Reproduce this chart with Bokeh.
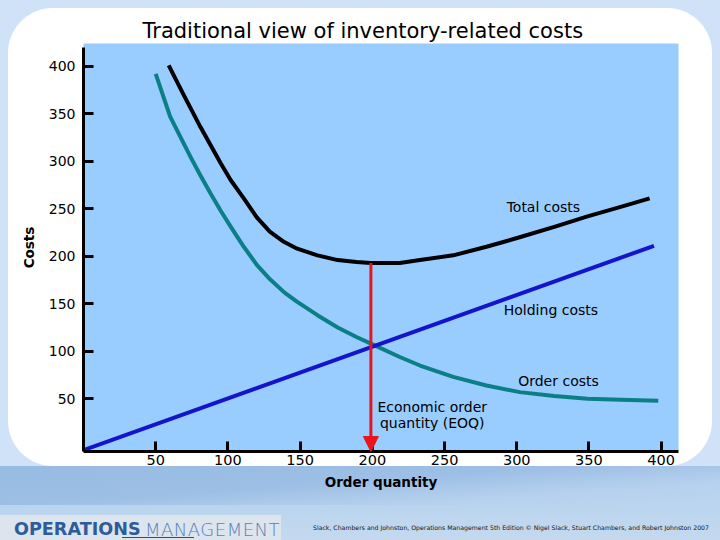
from bokeh.plotting import figure
from bokeh.layouts import column
from bokeh.models import (Range1d, FixedTicker, Label, Arrow, NormalHead, Div,
                          InlineStyleSheet)
from bokeh.embed import file_html
from bokeh.resources import INLINE

# ---------------- data ----------------
title_text = "Traditional view of inventory-related costs"
x_title = "Order quantity"
y_title = "Costs"

qty_ticks = [50, 100, 150, 200, 250, 300, 350, 400]
cost_ticks = [50, 100, 150, 200, 250, 300, 350, 400]

holding_x = [0, 395]
holding_y = [-4, 211]

order_x = [50, 60, 67, 74, 81, 88, 95, 102, 111, 120, 129, 139, 148, 162, 176, 189,
           199, 219, 233, 256, 279, 302, 326, 349, 372, 398]
order_y = [392, 347, 326, 305, 285, 266, 248, 231, 210, 191, 176, 162, 152, 138, 125, 115,
           108, 94, 85, 73, 64, 57, 53, 50, 49, 48]

total_x = [59, 69, 81, 95, 102, 111, 120, 129, 139, 148, 162, 176, 189, 199, 219,
           233, 256, 279, 302, 326, 349, 372, 392]
total_y = [401, 371, 336, 298, 280, 261, 241, 226, 215, 208, 201, 196, 194, 193, 193,
           196, 201, 210, 220, 231, 242, 252, 261]

eoq_qty = 199
eoq_total = 193

series_labels = ["Total costs", "Holding costs", "Order costs"]
eoq_label = "Economic order\nquantity (EOQ)"
logo_words = ["OPERATIONS", "MANAGEMENT"]
credit = ("Slack, Chambers and Johnston, Operations Management 5th Edition "
          "\u00a9 Nigel Slack, Stuart Chambers, and Robert Johnston 2007")

# ---------------- styles ----------------
FONT = "DejaVu Sans"
TEAL = "#0B7F86"
BLUE = "#1414CC"
RED = "#E8161C"
PLOT_BG = "#99CCFF"
PAGE_BG = "#CFE2F7"

Y0, Y1 = -5.5, 424
X0, X1 = 0, 412

W, H = 720, 505

W_ = "linear-gradient(#ffffff,#ffffff)"
R_ = "radial-gradient(circle at 45px 45px, #ffffff 44.5px, rgba(255,255,255,0) 45.5px)"
page_css = InlineStyleSheet(css=f"""
:host {{
  background-color: {PAGE_BG};
  background-image: {W_}, {W_}, {R_}, {R_}, {R_}, {R_},
                    linear-gradient(176deg, #97BBE2 0%, #9DBFE5 45%, #B6D1EE 75%, #BCD5EF 100%);
  background-repeat: no-repeat;
  background-position: 8px 53px, 53px 8px, 8px 8px, 622px 8px, 8px 376px, 622px 376px, 0px 466px;
  background-size: 704px 368px, 614px 458px, 90px 90px, 90px 90px, 90px 90px, 90px 90px, 720px 39px;
}}
""")

p = figure(width=W, height=H, x_range=Range1d(X0, X1), y_range=Range1d(Y0, Y1),
           output_backend="svg", toolbar_location=None, title=title_text,
           min_border_left=83, min_border_right=42, min_border_top=43, min_border_bottom=54)
p.stylesheets = [page_css]

p.border_fill_color = None
p.background_fill_color = PLOT_BG
p.outline_line_color = None
p.grid.visible = False

# title
p.title.text_font = FONT
p.title.text_font_size = "21px"
p.title.text_font_style = "normal"
p.title.text_color = "black"
p.title.align = "left"
p.title.offset = 59
p.title.standoff = 2

# axes
for ax in (p.xaxis[0], p.yaxis[0]):
    ax.axis_line_width = 3
    ax.axis_line_color = "black"
    ax.major_tick_line_width = 3
    ax.major_tick_line_color = "black"
    ax.major_tick_in = 10
    ax.major_tick_out = 0
    ax.minor_tick_line_color = None
    ax.major_label_text_font = FONT
    ax.major_label_text_font_size = "14px"
    ax.major_label_text_color = "black"
    ax.axis_label_text_font = FONT
    ax.axis_label_text_font_style = "bold"
    ax.axis_label_text_color = "black"

p.xaxis.ticker = FixedTicker(ticks=qty_ticks)
p.yaxis.ticker = FixedTicker(ticks=cost_ticks)
p.xaxis.major_label_standoff = 3
p.yaxis.major_label_standoff = 8
p.xaxis.major_label_text_font_size = "14.5px"
p.yaxis.bounds = (Y0, 420)
p.xaxis.axis_label = x_title
p.yaxis.axis_label = y_title
p.xaxis.axis_label_text_font_size = "13.5px"
p.yaxis.axis_label_text_font_size = "13.5px"
p.xaxis.axis_label_standoff = 6
p.yaxis.axis_label_standoff = 9

# series
p.line(order_x, order_y, line_color=TEAL, line_width=4, line_join="round")
p.line(holding_x, holding_y, line_color=BLUE, line_width=4)
p.line(total_x, total_y, line_color="black", line_width=4, line_join="round")

p.add_layout(Arrow(end=NormalHead(size=15, fill_color=RED, line_color=RED),
                   x_start=eoq_qty, y_start=eoq_total, x_end=eoq_qty, y_end=Y0,
                   line_color=RED, line_width=3))

# annotations
lab_kw = dict(text_font=FONT, text_font_size="14px", text_color="black", text_baseline="middle")
p.add_layout(Label(x=293, y=252, text=series_labels[0], **lab_kw))
p.add_layout(Label(x=291, y=143, text=series_labels[1], **lab_kw))
p.add_layout(Label(x=301, y=69, text=series_labels[2], **lab_kw))
p.add_layout(Label(x=241.5, y=33, text=eoq_label, text_align="center",
                   text_line_height=0.98, **lab_kw))

# footer strip with logo and credit
footer_html = f"""
<div style="position:relative;width:720px;height:35px;overflow:hidden;
            background:linear-gradient(to bottom,#BAD4EE,#C4D9EF);">
  <div style="position:absolute;left:0;top:10px;width:281px;height:25px;background:#DCE4EE;"></div>
  <span style="position:absolute;left:14px;top:12px;font-family:'{FONT}';font-weight:bold;
               font-size:17.6px;color:#2E5B9A;white-space:nowrap;">{logo_words[0]}</span>
  <span style="position:absolute;left:145px;top:12px;font-family:'{FONT}';font-weight:200;
               font-size:18px;letter-spacing:0.5px;color:#5A7FB6;white-space:nowrap;">{logo_words[1]}</span>
  <div style="position:absolute;left:122px;top:32px;width:72px;height:1px;background:#2E4F7E;"></div>
  <span style="position:absolute;left:313px;top:19px;font-family:'{FONT}';font-size:6.2px;
               color:#111111;white-space:nowrap;">{credit}</span>
</div>
"""
footer = Div(text=footer_html, width=W, height=35, styles={"margin": "0", "padding": "0"})

page = column(p, footer, spacing=0)

open("out.html", "w").write(file_html(page, INLINE))
